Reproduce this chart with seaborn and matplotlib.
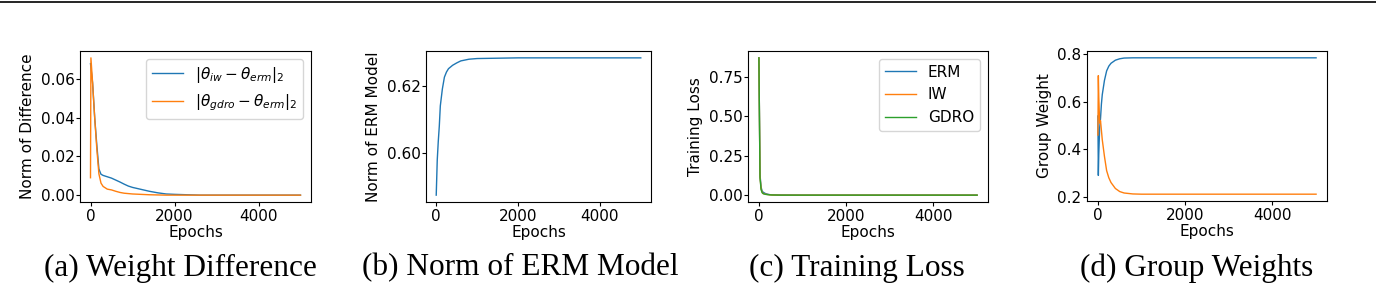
import numpy as np
import pandas as pd
import matplotlib
matplotlib.use("Agg")
import matplotlib.pyplot as plt
from matplotlib.lines import Line2D
import seaborn as sns

# (a) weight difference
epochs_a = [0, 10, 50, 100, 150, 200, 250, 300, 400, 500, 600, 700, 800, 900, 1000,
            1200, 1400, 1600, 1800, 2000, 2300, 2600, 3000, 4000, 5000]
diff_iw = [0.068, 0.066, 0.058, 0.040, 0.026, 0.0135, 0.0108, 0.0102, 0.0095, 0.0088,
           0.0078, 0.0068, 0.0057, 0.0047, 0.0040, 0.0030, 0.0020, 0.0012, 0.0006,
           0.0004, 0.0002, 0.0, 0.0, 0.0, 0.0]
diff_gdro = [0.009, 0.071, 0.058, 0.040, 0.024, 0.011, 0.0062, 0.0045, 0.0031, 0.0027,
             0.0020, 0.0014, 0.0010, 0.0008, 0.0006, 0.0004, 0.0002, 0.0001, 0.0,
             0.0, 0.0, 0.0, 0.0, 0.0, 0.0]

# (b) norm of ERM model
epochs_b = [0, 25, 50, 75, 100, 150, 200, 250, 300, 400, 500, 600, 800, 1000, 1500,
            2000, 3000, 4000, 5000]
norm_erm = [0.5876, 0.598, 0.6035, 0.608, 0.614, 0.619, 0.6225, 0.6240, 0.6250,
            0.6260, 0.6267, 0.6273, 0.6278, 0.6280, 0.6281, 0.6282, 0.6282, 0.6282,
            0.6282]

# (c) training loss
epochs_c = [0, 25, 50, 75, 100, 150, 200, 250, 300, 500, 1000, 2000, 3000, 4000, 5000]
loss_erm = [0.868, 0.13, 0.05, 0.025, 0.018, 0.010, 0.006, 0.003, 0.002, 0.001, 0.0,
            0.0, 0.0, 0.0, 0.0]
loss_iw = [0.868, 0.12, 0.04, 0.018, 0.010, 0.006, 0.004, 0.002, 0.001, 0.0, 0.0,
           0.0, 0.0, 0.0, 0.0]
loss_gdro = [0.868, 0.11, 0.035, 0.015, 0.009, 0.005, 0.003, 0.002, 0.001, 0.0, 0.0,
             0.0, 0.0, 0.0, 0.0]

# (d) group weights
epochs_d = [0, 10, 20, 40, 60, 80, 100, 150, 200, 250, 300, 400, 500, 600, 800, 1000,
            2000, 3000, 4000, 5000]
weight_g1 = [0.54, 0.29, 0.38, 0.49, 0.53, 0.59, 0.63, 0.69, 0.73, 0.750, 0.762,
             0.775, 0.781, 0.784, 0.785, 0.785, 0.785, 0.785, 0.785, 0.785]
weight_g2 = [0.46, 0.71, 0.62, 0.51, 0.52, 0.48, 0.44, 0.37, 0.31, 0.280, 0.260,
             0.235, 0.222, 0.216, 0.212, 0.211, 0.211, 0.211, 0.211, 0.211]

captions = ["(a) Weight Difference", "(b) Norm of ERM Model",
            "(c) Training Loss", "(d) Group Weights"]

plt.rcParams["font.family"] = ["DejaVu Sans"]
plt.rcParams["font.size"] = 11

fig = plt.figure(figsize=(13.76, 2.97), dpi=100)
boxes = [
    [80 / 1376, 95 / 297, 231 / 1376, 151 / 297],
    [426 / 1376, 95 / 297, 225 / 1376, 151 / 297],
    [748 / 1376, 95 / 297, 240 / 1376, 151 / 297],
    [1087 / 1376, 96 / 297, 240 / 1376, 150 / 297],
]
axes = [fig.add_axes(b) for b in boxes]
lw = 1.0

ax = axes[0]
sns.lineplot(x=epochs_a, y=diff_iw, ax=ax, color="C0", lw=lw,
             label=r"$|\theta_{iw} - \theta_{erm}|_2$")
sns.lineplot(x=epochs_a, y=diff_gdro, ax=ax, color="C1", lw=lw,
             label=r"$|\theta_{gdro} - \theta_{erm}|_2$")
ax.set_ylabel("Norm of Difference")
ax.set_yticks([0.0, 0.02, 0.04, 0.06])
ax.legend(loc="upper right", fontsize=11)

ax = axes[1]
sns.lineplot(x=epochs_b, y=norm_erm, ax=ax, color="C0", lw=lw)
ax.set_ylabel("Norm of ERM Model")
ax.set_yticks([0.60, 0.62])

ax = axes[2]
sns.lineplot(x=epochs_c, y=loss_erm, ax=ax, color="C0", lw=lw, label="ERM")
sns.lineplot(x=epochs_c, y=loss_iw, ax=ax, color="C1", lw=lw, label="IW")
sns.lineplot(x=epochs_c, y=loss_gdro, ax=ax, color="C2", lw=lw, label="GDRO")
ax.set_ylabel("Training Loss")
ax.set_yticks([0.0, 0.25, 0.5, 0.75])
ax.legend(loc="upper right", fontsize=11)

ax = axes[3]
sns.lineplot(x=epochs_d, y=weight_g1, ax=ax, color="C0", lw=lw)
sns.lineplot(x=epochs_d, y=weight_g2, ax=ax, color="C1", lw=lw)
ax.set_ylabel("Group Weight")
ax.set_yticks([0.2, 0.4, 0.6, 0.8])

for ax in axes:
    ax.set_xlabel("Epochs", labelpad=1)
    ax.set_xticks([0, 2000, 4000])
    ax.tick_params(labelsize=11, length=3)
    ax.tick_params(axis="y", pad=1)
    ax.tick_params(axis="x", pad=2)

centers = [180, 520, 857, 1197]
for cx, cap in zip(centers, captions):
    fig.text(cx / 1376, 1 - 268 / 297, cap, ha="center", va="center",
             family="Liberation Serif", fontsize=22.5)

fig.add_artist(Line2D([0, 1], [1 - 1.5 / 297, 1 - 1.5 / 297], color="black", lw=1.2))

fig.savefig("out.png", dpi=100)
